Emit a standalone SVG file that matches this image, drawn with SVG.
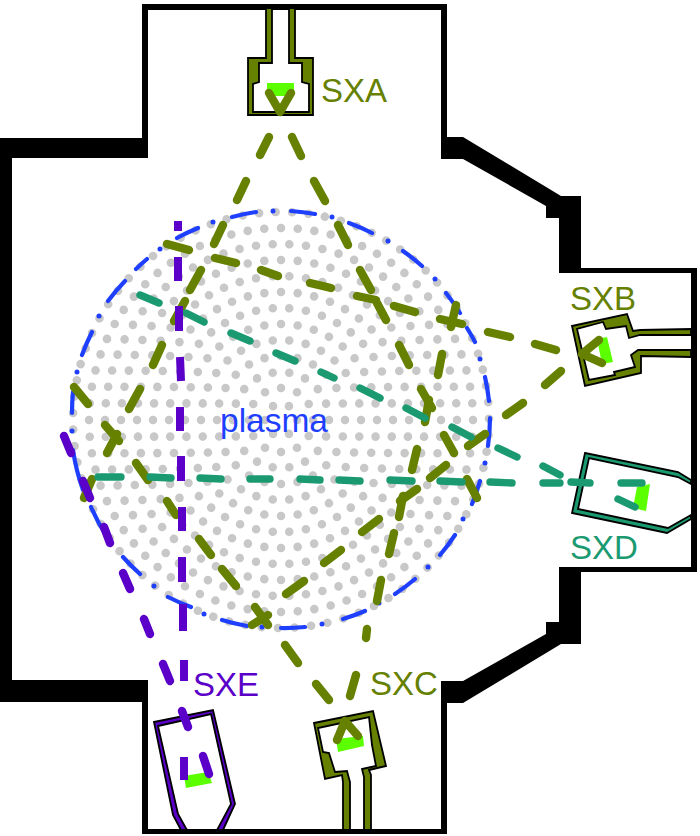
<svg xmlns="http://www.w3.org/2000/svg" width="700" height="836" viewBox="0 0 700 836">
<style>
text{font-family:"Liberation Sans",Arial,sans-serif;font-size:33px}
.ring{fill:none;stroke:#c8c8c8;stroke-width:8.6;stroke-linecap:round;stroke-dasharray:0 1}
.det{stroke:#000;stroke-width:1.8;stroke-linejoin:miter}
.g{fill:#5cff00}
.l{fill:none;stroke-linecap:round;stroke-linejoin:round}
.o{stroke:#668000;stroke-width:8.4}
.t{stroke:#1b9a72;stroke-width:7.4}
.p{stroke:#5a00c8;stroke-width:8.4}
.pv{fill:none;stroke:#5a00c8;stroke-width:8}
.b{fill:none;stroke:#1f3fff;stroke-width:4.2;stroke-linecap:round}
</style>
<rect width="700" height="836" fill="#fff"/>
<path id="vessel" fill="#000" fill-rule="evenodd" d="M142,4H447V137H463L561,196H581V268H697V572H581V644H561L463,703H447V834H142V702H0V138H142ZM148,10V158H12V680H148V829H441V681H463L546,634V622H559V567H691V273H559V218H546V206L463,159H441V10Z"/>
<g id="plasma">
<g>
<circle class="ring" cx="281" cy="420" r="208" pathLength="79" transform="rotate(4.2 281 420)"/>
<circle class="ring" cx="281" cy="420" r="192" pathLength="72"/>
<circle class="ring" cx="281" cy="420" r="176" pathLength="66"/>
<circle class="ring" cx="281" cy="420" r="160" pathLength="60"/>
<circle class="ring" cx="281" cy="420" r="144" pathLength="54"/>
<circle class="ring" cx="281" cy="420" r="128" pathLength="48"/>
<circle class="ring" cx="281" cy="420" r="112" pathLength="42"/>
<circle class="ring" cx="281" cy="420" r="96" pathLength="36"/>
<circle class="ring" cx="281" cy="420" r="80" pathLength="30"/>
<circle class="ring" cx="281" cy="420" r="64" pathLength="24"/>
<circle class="ring" cx="281" cy="420" r="48" pathLength="18"/>
<circle class="ring" cx="281" cy="420" r="32" pathLength="12"/>
<circle class="ring" cx="281" cy="420" r="16" pathLength="6"/>
</g>
<path class="b" d="M291,211A209,209 0 0 1 315,214M349,223A209,209 0 0 1 372,233M403,251A209,209 0 0 1 422,266M446,293A209,209 0 0 1 460,313M467,328A209,209 0 0 1 475,342M485,377A209,209 0 0 1 489,401M490,418A209,209 0 0 1 488,446M480,481A209,209 0 0 1 472,504M455,535A209,209 0 0 1 440,555M415,579A209,209 0 0 1 395,594M365,611A209,209 0 0 1 343,619M305,627A209,209 0 0 1 281,628M247,626A209,209 0 0 1 222,620M191,607A209,209 0 0 1 168,597M140,574A209,209 0 0 1 123,557M107,537A209,209 0 0 1 91,507M83,490A209,209 0 0 1 73,450M72,413A209,209 0 0 1 73,392M82,355A209,209 0 0 1 92,332M108,301A209,209 0 0 1 125,281M136,269A209,209 0 0 1 147,259M177,238A209,209 0 0 1 198,228M232,217A209,209 0 0 1 256,212"/>
<path class="b" style="stroke-width:5" d="M273,211h.01M332,217h.01M388,241h.01M435,279h.01M480,359h.01M485,463h.01M463,519h.01M428,567h.01M379,603h.01M322,624h.01M262,627h.01M204,614h.01M154,586h.01M72,431h.01M77,372h.01M99,316h.01M160,249h.01M213,222h.01"/>
<text x="220" y="432" fill="#1f3fff" style="font-size:33.5px">plasma</text>
</g>
<g id="SXA">
<polygon class="det" fill="#668000" points="266,8 266,58 248,58 248,115 313,115 313,58 295,58 295,8 289,8 289,63 302,63 302,82 309,84 309,112 253,112 253,84 259,82 259,63 272,63 272,8"/>
<polygon class="g" points="267,83 294,83 294,96 267,96"/>
<text x="321" y="102" fill="#668000">SXA</text>
</g>
<g id="SXB">
<polygon class="det" fill="#668000" points="572,326 627,314 633,331 640,330 691,329 691,335 640,335 629,338 626,326 606,329 603,322 577,329 589,380 615,375 614,372 635,367 631,355 638,350 691,350 691,357 641,356 641,373 585,386"/>
<polygon class="g" points="597,339 607,337 613,362 602,364"/>
<text x="570" y="310" fill="#668000">SXB</text>
</g>
<g id="SXC">
<polygon class="det" fill="#668000" points="314,723 373,711 386,766 369,770 371,775 371,830 364,830 364,777 362,769 376,766 372,745 369,717 318,728 323,752 329,753 335,772 347,771 350,782 350,830 343,830 343,782 342,775 325,779"/>
<polygon class="g" points="336,739 363,736 364,746 338,752"/>
<text x="370" y="695" fill="#668000">SXC</text>
</g>
<g id="SXD">
<polygon class="det" fill="#1b9a72" points="585,453 678,472 691,480 691,484 678,477 589,458 578,509 668,528 691,515 691,519 667,533 572,513"/>
<polygon class="g" points="637,487 650,484 646,511 633,508"/>
<text x="570" y="559" fill="#1b9a72">SXD</text>
</g>
<g id="SXE">
<polygon class="det" fill="#5a00c8" points="154,722 213,710 235,804 223,830 217,830 231,804 211,714 158,726 178,814 187,830 181,830 173,815"/>
<polygon class="g" points="184,776 208,772 212,783 186,788"/>
<text x="193" y="696" fill="#5a00c8">SXE</text>
</g>
<g id="connectors">
<path class="l o" d="M269,93L280,112L291,93M269,137L260,155M246,181L237,200M223,225L214,244M201,270L190,290M185,301L174,321M162,345L153,365M140,389L129,409M117,434L107,453M92,479L84,498"/>
<path class="l o" d="M292,137L301,156M314,181L325,201M338,225L348,245M360,270L371,290M377,303L386,320M399,345L409,365M421,389L432,408M444,435L454,453M467,479L477,498"/>
<path class="l o" d="M599,340L582,354L602,363M556,350L535,344M510,337L488,332M462,324L440,319M415,312L394,306M376,300L357,296M331,288L310,283M278,276L261,270M236,263L215,258M189,250L167,244"/>
<path class="l o" d="M561,371L545,385M523,403L506,415M485,434L468,446M446,465L430,478M417,489L400,501M379,519L362,532M341,550L324,563M304,581L286,594M268,615L252,625"/>
<path class="l o" d="M337,740L345,721L358,736M356,675L350,696M367,629L366,638M381,580L377,601M394,533L389,554M403,496L399,517M417,449L412,470M429,400L425,422M442,354L438,375M456,305L451,327"/>
<path class="l o" d="M329,700L316,684M298,663L285,645M268,625L255,607M236,586L222,569M211,555L199,539M176,515L167,501M148,480L136,463M119,441L105,425M88,404L74,387"/>
<path class="l t" d="M98,477L121,477M150,477L171,478M200,478L221,479M250,479L270,479M300,479L320,480M339,480L360,481M390,480L412,481M440,481L462,482M490,482L512,483M543,483L560,483M571,482L590,483M621,483L642,483M618,499L635,507"/>
<path class="l t" d="M140,295L159,303M186,313L204,322M231,333L250,341M276,353L295,361M321,372L334,378M360,388L380,398M406,408L425,418M452,427L471,437M498,448L517,457M543,466L560,475"/>
<path class="pv" d="M178,221V231M178,257V281M179,306V331M180,357L181,381M180,407V431M181,456V481M182,507V531M182,557V582M183,604V631M184,660V681M184,757V780"/>
<path class="l p" d="M209,774L203,756M188,727L182,711M170,681L163,664M150,634L144,619M130,589L123,573M110,543L104,527M90,498L83,481M71,453L64,436"/>
</g>
</svg>
